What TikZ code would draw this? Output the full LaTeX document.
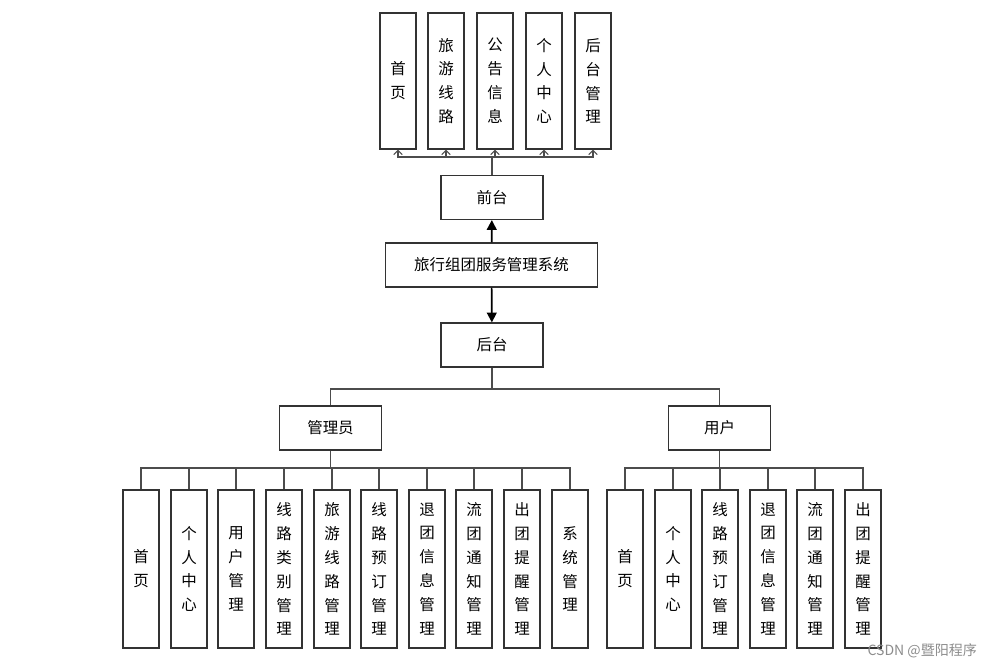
\documentclass[tikz,border=0pt]{standalone}
\usepackage{fontspec}
\setmainfont{Noto Sans CJK SC}
\usetikzlibrary{arrows.meta}

\begin{document}
\begin{tikzpicture}[x=0.025cm, y=-0.025cm,
    box/.style={draw, thick, draw=black!80, fill=white, font=\fontsize{11}{14}\selectfont, inner sep=0pt},
    wide/.style={box, minimum width=2.55cm, minimum height=1.1cm},
    tall/.style={box, minimum width=0.9cm, minimum height=3.4cm, align=center, font=\fontsize{11}{17}\selectfont},
    tallt/.style={tall, minimum height=3.95cm},
    link/.style={draw=black!70, thick},
    up/.style={link, -{Straight Barb[length=3pt,width=6pt]}},
    main/.style={very thick, -{Triangle[length=7pt,width=7pt]}}
]
\useasboundingbox (0,0) rectangle (995,669);

% top level
\node[box, minimum width=5.28cm, minimum height=1.1cm] (sys) at (491.5,265) {旅行组团服务管理系统};
\node[wide] (qt) at (492,197.5) {前台};
\node[wide] (ht) at (492,345) {后台};
\draw[main] (sys) -- (qt);
\draw[main] (sys) -- (ht);

% front pages
\foreach \name/\x/\txt in {sy/398/首\\页, ly/446/旅\\游\\线\\路, gg/495/公\\告\\信\\息, gr/544/个\\人\\中\\心, hg/593/后\\台\\管\\理}
  \node[tall] (\name) at (\x,81) {\txt};
\coordinate (fbus) at (492,157);
\draw[link] (qt.north) -- (fbus);
\foreach \name in {sy,ly,gg,gr,hg}
  \draw[up] (fbus) -| (\name.south);

% roles
\node[wide] (gly) at (330.5,428) {管理员};
\node[wide] (yh) at (719.5,428) {用户};
\coordinate (rbus) at (492,389);
\draw[link] (ht.south) -- (rbus);
\draw[link] (rbus) -| (gly.north);
\draw[link] (rbus) -| (yh.north);

% admin functions
\foreach \name/\x/\txt in {a1/141/首\\页, a2/189/个\\人\\中\\心, a3/236/用\\户\\管\\理, a4/284/线\\路\\类\\别\\管\\理, a5/332/旅\\游\\线\\路\\管\\理, a6/379/线\\路\\预\\订\\管\\理, a7/427/退\\团\\信\\息\\管\\理, a8/474/流\\团\\通\\知\\管\\理, a9/522/出\\团\\提\\醒\\管\\理, a10/570/系\\统\\管\\理}
  \node[tallt] (\name) at (\x,569) {\txt};
\coordinate (abus) at (330.5,468);
\draw[link] (gly.south) -- (abus);
\foreach \name in {a1,a2,a3,a4,a5,a6,a7,a8,a9,a10}
  \draw[link] (abus) -| (\name.north);

% user functions
\foreach \name/\x/\txt in {u1/625/首\\页, u2/673/个\\人\\中\\心, u3/720/线\\路\\预\\订\\管\\理, u4/768/退\\团\\信\\息\\管\\理, u5/815/流\\团\\通\\知\\管\\理, u6/863/出\\团\\提\\醒\\管\\理}
  \node[tallt] (\name) at (\x,569) {\txt};
\coordinate (ubus) at (719.5,468);
\draw[link] (yh.south) -- (ubus);
\foreach \name in {u1,u2,u3,u4,u5,u6}
  \draw[link] (ubus) -| (\name.north);

\node[text=black!45, font=\fontsize{10}{12}\selectfont, anchor=east] (mark) at (982,651) {CSDN @暨阳程序};
\end{tikzpicture}
\end{document}
